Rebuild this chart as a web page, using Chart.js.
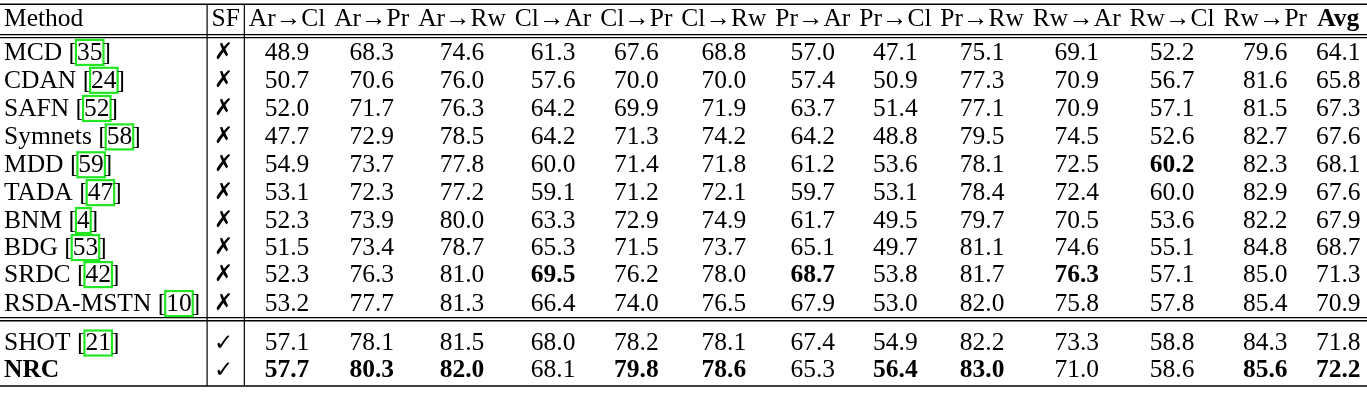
<!DOCTYPE html>
<html><head><meta charset="utf-8">
<script src="https://cdn.jsdelivr.net/npm/chart.js@4/dist/chart.umd.min.js"></script>
<style>html,body{margin:0;padding:0;background:#fff}#w{width:1367px;height:419px}</style>
</head><body><div id="w"><canvas id="c"></canvas></div>
<script>
const headers = ["Ar→Cl","Ar→Pr","Ar→Rw","Cl→Ar","Cl→Pr","Cl→Rw","Pr→Ar","Pr→Cl","Pr→Rw","Rw→Ar","Rw→Cl","Rw→Pr","Avg"];
const methods = ["MCD","CDAN","SAFN","Symnets","MDD","TADA","BNM","BDG","SRDC","RSDA-MSTN","SHOT","NRC"];
const cites = ["35","24","52","58","59","47","4","53","42","10","21",""];
const sourceFree = [false,false,false,false,false,false,false,false,false,false,true,true];
const values = [
 [48.9,68.3,74.6,61.3,67.6,68.8,57.0,47.1,75.1,69.1,52.2,79.6,64.1],
 [50.7,70.6,76.0,57.6,70.0,70.0,57.4,50.9,77.3,70.9,56.7,81.6,65.8],
 [52.0,71.7,76.3,64.2,69.9,71.9,63.7,51.4,77.1,70.9,57.1,81.5,67.3],
 [47.7,72.9,78.5,64.2,71.3,74.2,64.2,48.8,79.5,74.5,52.6,82.7,67.6],
 [54.9,73.7,77.8,60.0,71.4,71.8,61.2,53.6,78.1,72.5,60.2,82.3,68.1],
 [53.1,72.3,77.2,59.1,71.2,72.1,59.7,53.1,78.4,72.4,60.0,82.9,67.6],
 [52.3,73.9,80.0,63.3,72.9,74.9,61.7,49.5,79.7,70.5,53.6,82.2,67.9],
 [51.5,73.4,78.7,65.3,71.5,73.7,65.1,49.7,81.1,74.6,55.1,84.8,68.7],
 [52.3,76.3,81.0,69.5,76.2,78.0,68.7,53.8,81.7,76.3,57.1,85.0,71.3],
 [53.2,77.7,81.3,66.4,74.0,76.5,67.9,53.0,82.0,75.8,57.8,85.4,70.9],
 [57.1,78.1,81.5,68.0,78.2,78.1,67.4,54.9,82.2,73.3,58.8,84.3,71.8],
 [57.7,80.3,82.0,68.1,79.8,78.6,65.3,56.4,83.0,71.0,58.6,85.6,72.2]
];
const boldCells = [[4,10],[8,3],[8,6],[8,9],[11,0],[11,1],[11,2],[11,4],[11,5],[11,7],[11,8],[11,11],[11,12]];
const rowY = [1.23,2.24,3.26,4.29,5.3,6.31,7.32,8.3,9.28,10.33,11.76,12.74];
const headerY = 0;

const F = 'px "Liberation Serif", "Times New Roman", serif';
const SIZE = 25.5;
const isBold=(r,c)=>boldCells.some(b=>b[0]===r&&b[1]===c);

const tablePlugin = {
  id:'table',
  afterDraw(chart){
    const ctx = chart.ctx, ys = chart.scales.y, W = chart.width;
    const Y = v=>ys.getPixelForValue(v);
    ctx.save();
    ctx.textBaseline='middle';
    const meas=(t,b)=>{ctx.font=(b?'bold ':'')+SIZE+F;return ctx.measureText(t).width;};
    let mW = meas("Method");
    methods.forEach((m,i)=>{mW=Math.max(mW,meas(m+(cites[i]?" ["+cites[i]+"]":""),i===11));});
    const sfW = meas("SF");
    const cw = headers.map((h,c)=>{let w=meas(h,c===12);values.forEach((r,ri)=>{w=Math.max(w,meas(r[c].toFixed(1),isBold(ri,c)));});return w;});
    const nat = mW+sfW+cw.reduce((a,b)=>a+b,0);
    const pad = Math.max(1,(W-4-nat)/(2*(cw.length+2)));
    const edges=[2]; let x=2;
    [mW,sfW,...cw].forEach(w=>{x+=w+2*pad;edges.push(x);});
    ctx.strokeStyle='#000';
    const hl=(v,lw)=>{ctx.lineWidth=lw;ctx.beginPath();ctx.moveTo(0,Y(v));ctx.lineTo(W,Y(v));ctx.stroke();};
    hl(-0.5,1.5); hl(0.6,1.3); hl(0.71,1.3); hl(10.86,1.3); hl(10.97,1.3); hl(13.33,1.5);
    ctx.lineWidth=1.2;
    [1,2].forEach(i=>{ctx.beginPath();ctx.moveTo(edges[i],Y(-0.5));ctx.lineTo(edges[i],Y(13.33));ctx.stroke();});
    ctx.fillStyle='#000';
    ctx.font=SIZE+F; ctx.textAlign='left';
    ctx.fillText("Method",edges[0]+2,Y(headerY)+1);
    ctx.textAlign='center';
    ctx.fillText("SF",(edges[1]+edges[2])/2,Y(headerY)+1);
    headers.forEach((h,c)=>{ctx.font=(c===12?'bold ':'')+SIZE+F;ctx.fillText(h,(edges[c+2]+edges[c+3])/2,Y(headerY)+1);});
    methods.forEach((m,i)=>{
      const y=Y(rowY[i])+1;
      ctx.textAlign='left'; ctx.font=(i===11?'bold ':'')+SIZE+F;
      let xx=edges[0]+2;
      const t=m+(cites[i]?" [":"");
      ctx.fillText(t,xx,y); xx+=ctx.measureText(t).width;
      if(cites[i]){
        const cwid=ctx.measureText(cites[i]).width;
        ctx.fillText(cites[i],xx,y);
        ctx.strokeStyle='#22e622'; ctx.lineWidth=2.2;
        ctx.strokeRect(xx-1,y-13,cwid+2,25);
        xx+=cwid; ctx.fillText("]",xx,y);
      }
      ctx.textAlign='center';
      ctx.font='bold 23px "DejaVu Sans"';
      ctx.fillText(sourceFree[i]?"✓":"✗",(edges[1]+edges[2])/2-2,y);
      values[i].forEach((v,c)=>{
        ctx.font=(isBold(i,c)?'bold ':'')+SIZE+F;
        ctx.fillText(v.toFixed(1),(edges[c+2]+edges[c+3])/2,y);
      });
    });
    ctx.restore();
  }
};

new Chart(document.getElementById('c'),{
  type:'scatter',
  data:{datasets:[{data:methods.map((m,i)=>({x:0,y:rowY[i]})),pointRadius:0}]},
  options:{
    responsive:true,maintainAspectRatio:false,animation:false,
    layout:{padding:0},
    plugins:{legend:{display:false},tooltip:{enabled:false}},
    scales:{
      x:{display:false,min:0,max:1},
      y:{display:false,reverse:true,min:-0.652,max:14.53}
    }
  },
  plugins:[tablePlugin]
});
</script></body></html>
